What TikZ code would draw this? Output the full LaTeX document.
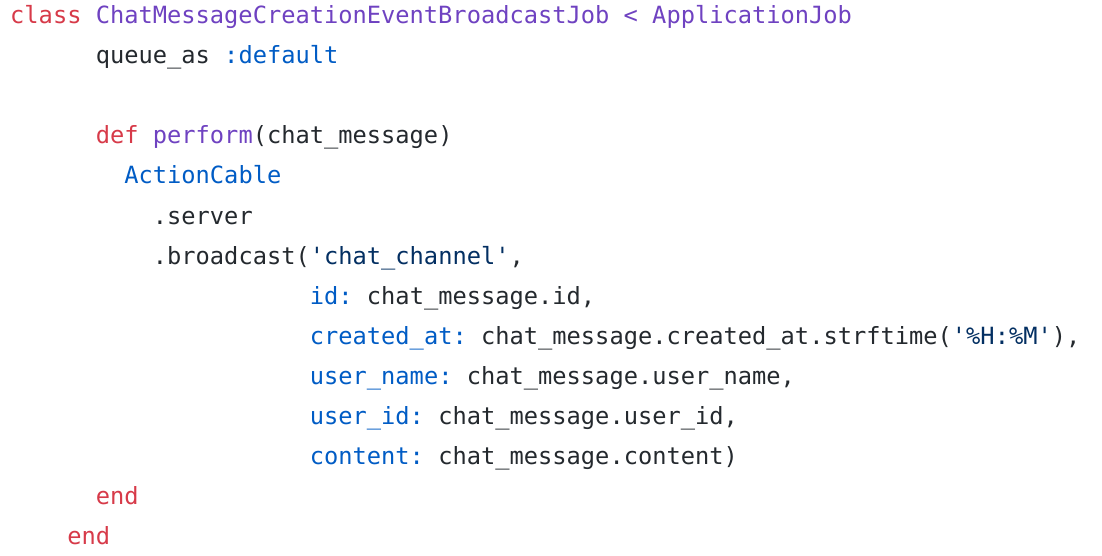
\documentclass[tikz,border=0pt]{standalone}
\usepackage{fontspec}
\setmonofont{DejaVu Sans Mono}
\definecolor{kw}{HTML}{D73A49}
\definecolor{pu}{HTML}{6F42C1}
\definecolor{bl}{HTML}{005CC5}
\definecolor{st}{HTML}{032F62}
\definecolor{tx}{HTML}{24292E}
\begin{document}
\begin{tikzpicture}[x=1pt,y=-1pt,
  code/.style={anchor=base west,inner sep=0pt,text=tx,font=\ttfamily\fontsize{23.7}{28}\selectfont}]
\useasboundingbox[fill=white] (0,0) rectangle (1102,556);
\def\cw{14.27}
\node[code] (l1) at (10,24) {\textcolor{kw}{class} \textcolor{pu}{ChatMessageCreationEventBroadcastJob < ApplicationJob}};
\node[code] (l2) at (10+6*\cw,64) {queue\_as \textcolor{bl}{:default}};
\node[code] (l4) at (10+6*\cw,144) {\textcolor{kw}{def} \textcolor{pu}{perform}(chat\_message)};
\node[code] (l5) at (10+8*\cw,184) {\textcolor{bl}{ActionCable}};
\node[code] (l6) at (10+10*\cw,224) {.server};
\node[code] (l7) at (10+10*\cw,264) {.broadcast(\textcolor{st}{'chat\_channel'},};
\node[code] (l8) at (10+21*\cw,304) {\textcolor{bl}{id:} chat\_message.id,};
\node[code] (l9) at (10+21*\cw,344) {\textcolor{bl}{created\_at:} chat\_message.created\_at.strftime(\textcolor{st}{'\%H:\%M'}),};
\node[code] (l10) at (10+21*\cw,384) {\textcolor{bl}{user\_name:} chat\_message.user\_name,};
\node[code] (l11) at (10+21*\cw,424) {\textcolor{bl}{user\_id:} chat\_message.user\_id,};
\node[code] (l12) at (10+21*\cw,464) {\textcolor{bl}{content:} chat\_message.content)};
\node[code] (l13) at (10+6*\cw,504) {\textcolor{kw}{end}};
\node[code] (l14) at (10+4*\cw,544) {\textcolor{kw}{end}};
\end{tikzpicture}
\end{document}
